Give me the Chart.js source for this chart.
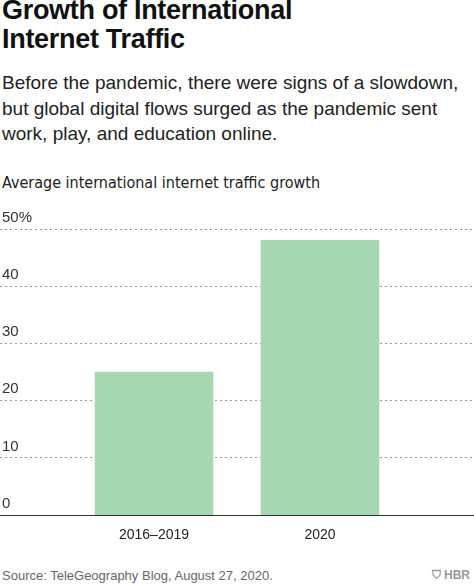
<!DOCTYPE html>
<html><head><meta charset="utf-8">
<script src="https://cdn.jsdelivr.net/npm/chart.js@4"></script>
<style>
body{margin:0;width:474px;height:585px;background:#fff;font-family:"Liberation Sans",Arial,sans-serif;color:#111;position:relative;overflow:hidden}
h1{margin:0;position:absolute;left:2px;top:-4px;font-size:27px;line-height:29px;font-weight:bold;letter-spacing:-0.3px}
.sub{position:absolute;left:2px;top:70px;font-size:19px;line-height:25.5px;width:472px;color:#222}
.lab{position:absolute;left:2px;top:173px;font-size:16px;font-family:"DejaVu Sans Condensed","Liberation Sans Narrow",sans-serif;color:#222}
.wrap{position:absolute;left:0;top:200px;width:474px;height:348px}
.src{position:absolute;left:2px;top:568px;font-size:13px;color:#666}
.hbr{position:absolute;right:4px;top:568px;font-size:12px;color:#999;font-weight:bold}
</style></head><body>
<h1>Growth of International<br>Internet Traffic</h1>
<div class="sub">Before the pandemic, there were signs of a slowdown, but global digital flows surged as the pandemic sent work, play, and education online.</div>
<div class="lab">Average international internet traffic growth</div>
<div class="wrap"><canvas id="c"></canvas></div>
<div class="src">Source: TeleGeography Blog, August 27, 2020.</div>
<div class="hbr">⛉ HBR</div>
<script>
const categories = ['2016–2019', '2020'];
const growth = [25, 48];
const yTicks = ['0', '10', '20', '30', '40', '50%'];

// y tick labels sit just above their gridline, flush left
const yLabels = {
  id: 'yLabels',
  afterDraw(chart) {
    const { ctx, scales: { y } } = chart;
    ctx.save();
    ctx.font = '15px "Liberation Sans"';
    ctx.fillStyle = '#333';
    ctx.textBaseline = 'bottom';
    yTicks.forEach((t, i) => ctx.fillText(t, 2, y.getPixelForValue(i * 10) - 4));
    ctx.restore();
  }
};

new Chart(document.getElementById('c').getContext('2d'), {
  type: 'bar',
  data: { datasets: [{ data: growth.map((v, i) => ({ x: i, y: v })), backgroundColor: '#a6d8b1', barThickness: 118 }] },
  options: {
    responsive: true, maintainAspectRatio: false, animation: false,
    layout: { padding: { left: 0, right: 0, top: 29 } },
    plugins: { legend: { display: false }, tooltip: { enabled: false } },
    scales: {
      x: {
        type: 'linear', min: -0.928, max: 1.928, offset: false,
        afterBuildTicks: s => { s.ticks = categories.map((c, i) => ({ value: i })); },
        grid: { display: false, offset: false }, border: { color: '#333' },
        ticks: { color: '#222', font: { size: 14, family: 'Liberation Sans' }, padding: 4,
          callback: v => categories[v] }
      },
      y: {
        min: 0, max: 50,
        ticks: { stepSize: 10, display: false },
        grid: { color: '#999', drawTicks: false },
        border: { display: false, dash: [2, 3] }
      }
    }
  },
  plugins: [yLabels]
});
</script>
</body></html>
